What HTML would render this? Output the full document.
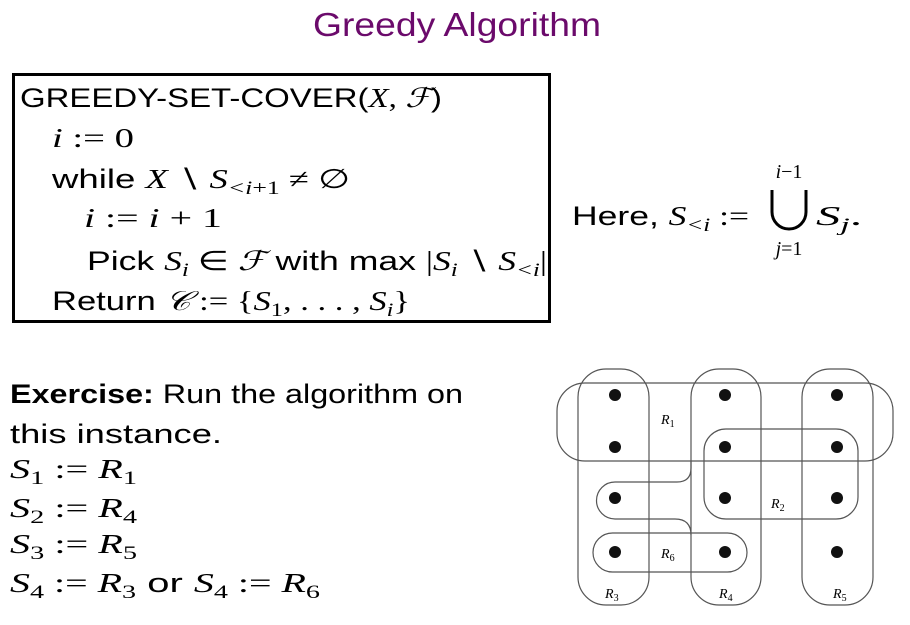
<!DOCTYPE html>
<html><head><meta charset="utf-8"><style>
html,body{margin:0;padding:0;background:#fff;}
svg{display:block}
.s{font-family:"Liberation Sans",sans-serif;}
.m{font-family:"Liberation Serif",serif;font-style:italic;}
.r{font-family:"Liberation Serif",serif;font-style:normal;}
</style></head><body>
<svg width="910" height="625" viewBox="0 0 910 625" xmlns="http://www.w3.org/2000/svg">
<text x="313" y="36" textLength="288" lengthAdjust="spacingAndGlyphs" class="s" font-size="33" fill="#6b0a6b">Greedy Algorithm</text>
<rect x="13.5" y="74.5" width="536" height="247" fill="none" stroke="#000" stroke-width="3"/>
<g font-size="27" fill="#000">
<text x="20" y="107" textLength="422" lengthAdjust="spacingAndGlyphs" class="s">GREEDY-SET-COVER(<tspan class="m">X</tspan><tspan class="r">, </tspan><tspan class="m">ℱ</tspan>)</text>
<text x="52" y="147" textLength="82" lengthAdjust="spacingAndGlyphs"><tspan class="m">i</tspan><tspan class="r"> := 0</tspan></text>
<text x="52" y="188" textLength="298" lengthAdjust="spacingAndGlyphs" class="s">while <tspan class="m">X</tspan><tspan class="r"> ∖ </tspan><tspan class="m">S</tspan><tspan class="m" font-size="19" dy="6">&lt;i</tspan><tspan class="r" font-size="19">+1</tspan><tspan class="r" dy="-6"> ≠ ∅</tspan></text>
<text x="84" y="227" textLength="138" lengthAdjust="spacingAndGlyphs"><tspan class="m">i</tspan><tspan class="r"> := </tspan><tspan class="m">i</tspan><tspan class="r"> + 1</tspan></text>
<text x="87" y="270" textLength="460" lengthAdjust="spacingAndGlyphs" class="s">Pick <tspan class="m">S</tspan><tspan class="m" font-size="19" dy="6">i</tspan><tspan class="r" dy="-6"> ∈ </tspan><tspan class="m">ℱ</tspan> with max <tspan class="r">|</tspan><tspan class="m">S</tspan><tspan class="m" font-size="19" dy="6">i</tspan><tspan class="r" dy="-6"> ∖ </tspan><tspan class="m">S</tspan><tspan class="m" font-size="19" dy="6">&lt;i</tspan><tspan class="r" dy="-6">|</tspan></text>
<text x="52" y="310" textLength="358" lengthAdjust="spacingAndGlyphs" class="s">Return <tspan class="m">𝒞</tspan><tspan class="r"> := {</tspan><tspan class="m">S</tspan><tspan class="r" font-size="19" dy="6">1</tspan><tspan class="r" dy="-6">, . . . , </tspan><tspan class="m">S</tspan><tspan class="m" font-size="19" dy="6">i</tspan><tspan class="r" dy="-6">}</tspan></text>
</g>
<g font-size="27" fill="#000">
<text x="572" y="225" textLength="177" lengthAdjust="spacingAndGlyphs" class="s">Here, <tspan class="m">S</tspan><tspan class="m" font-size="19" dy="6">&lt;i</tspan><tspan class="r" dy="-6"> :=</tspan></text>
<text x="816" y="225" textLength="46" lengthAdjust="spacingAndGlyphs"><tspan class="m">S</tspan><tspan class="m" font-size="19" dy="6">j</tspan><tspan class="r" dy="-6">.</tspan></text>
<text x="789" y="178" text-anchor="middle" font-size="20"><tspan class="m">i</tspan><tspan class="r">−1</tspan></text>
<text x="789" y="255" text-anchor="middle" font-size="20"><tspan class="m">j</tspan><tspan class="r">=1</tspan></text>
</g>
<path d="M772 190 V212 A17 17 0 0 0 806 212 V190" fill="none" stroke="#000" stroke-width="3"/>
<g font-size="27" fill="#000">
<text x="10" y="403" textLength="453" lengthAdjust="spacingAndGlyphs" class="s"><tspan font-weight="bold">Exercise:</tspan> Run the algorithm on</text>
<text x="10" y="443" textLength="212" lengthAdjust="spacingAndGlyphs" class="s">this instance.</text>
<text x="10" y="478" textLength="127" lengthAdjust="spacingAndGlyphs"><tspan class="m">S</tspan><tspan class="r" font-size="19" dy="6">1</tspan><tspan class="r" dy="-6"> := </tspan><tspan class="m">R</tspan><tspan class="r" font-size="19" dy="6">1</tspan></text>
<text x="10" y="517" textLength="127" lengthAdjust="spacingAndGlyphs"><tspan class="m">S</tspan><tspan class="r" font-size="19" dy="6">2</tspan><tspan class="r" dy="-6"> := </tspan><tspan class="m">R</tspan><tspan class="r" font-size="19" dy="6">4</tspan></text>
<text x="10" y="553" textLength="127" lengthAdjust="spacingAndGlyphs"><tspan class="m">S</tspan><tspan class="r" font-size="19" dy="6">3</tspan><tspan class="r" dy="-6"> := </tspan><tspan class="m">R</tspan><tspan class="r" font-size="19" dy="6">5</tspan></text>
<text x="10" y="592" textLength="310" lengthAdjust="spacingAndGlyphs"><tspan class="m">S</tspan><tspan class="r" font-size="19" dy="6">4</tspan><tspan class="r" dy="-6"> := </tspan><tspan class="m">R</tspan><tspan class="r" font-size="19" dy="6">3</tspan><tspan class="s" dy="-6"> or </tspan><tspan class="m">S</tspan><tspan class="r" font-size="19" dy="6">4</tspan><tspan class="r" dy="-6"> := </tspan><tspan class="m">R</tspan><tspan class="r" font-size="19" dy="6">6</tspan></text>
</g>
<g fill="none" stroke="#555" stroke-width="1.2">
<rect x="578" y="369" width="71" height="236" rx="28"/>
<rect x="691" y="369" width="70" height="236" rx="28"/>
<rect x="802" y="369" width="71" height="236" rx="28"/>
<rect x="557" y="383" width="336" height="78" rx="28"/>
<rect x="704" y="429" width="154" height="90" rx="22"/>
<rect x="593" y="533" width="154" height="39" rx="19.5"/>
<path d="M691 461 V468 Q691 482 677 482 H615 A18.5 18.5 0 0 0 615 519 H675 Q691 519 691 535"/>
</g>
<g fill="#111">
<circle cx="615" cy="395" r="6"/><circle cx="725" cy="395" r="6"/><circle cx="837" cy="395" r="6"/>
<circle cx="615" cy="447" r="6"/><circle cx="725" cy="447" r="6"/><circle cx="837" cy="447" r="6"/>
<circle cx="615" cy="498" r="6"/><circle cx="725" cy="498" r="6"/><circle cx="837" cy="498" r="6"/>
<circle cx="615" cy="552" r="6"/><circle cx="725" cy="552" r="6"/><circle cx="837" cy="552" r="6"/>
</g>
<g font-size="14" fill="#000">
<text x="661" y="424" class="m">R<tspan class="r" font-size="10" dy="3">1</tspan></text>
<text x="771" y="508" class="m">R<tspan class="r" font-size="10" dy="3">2</tspan></text>
<text x="661" y="558" class="m">R<tspan class="r" font-size="10" dy="3">6</tspan></text>
<text x="605" y="598" class="m">R<tspan class="r" font-size="10" dy="3">3</tspan></text>
<text x="719" y="598" class="m">R<tspan class="r" font-size="10" dy="3">4</tspan></text>
<text x="833" y="598" class="m">R<tspan class="r" font-size="10" dy="3">5</tspan></text>
</g>
</svg>
</body></html>
